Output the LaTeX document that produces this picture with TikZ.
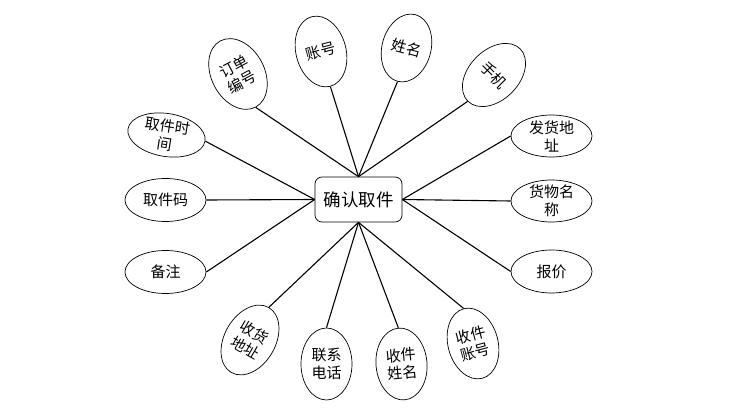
\documentclass[tikz,border=0pt]{standalone}
\usepackage{fontspec}
\setmainfont{Noto Sans CJK SC}
\usetikzlibrary{shapes.geometric}

\begin{document}
\begin{tikzpicture}[x=1pt, y=-1pt,
    attr/.style={draw, ellipse, line width=0.7pt, inner sep=-12pt, align=center,
        minimum width=50pt, minimum height=72pt, font=\fontsize{15}{18}\selectfont},
    wide/.style={minimum width=81pt, minimum height=43pt},
    link/.style={line width=1.1pt}]
    \useasboundingbox (0,0) rectangle (740,409);

    % 中心
    \node[draw, rounded corners=7pt, line width=0.7pt, minimum width=87pt, minimum height=45pt,
        inner sep=0pt, font=\fontsize{17.5}{20}\selectfont] (confirm) at (358.5,199.5) {确认取件};

    % 上方
    \node[attr, rotate=28, minimum width=53pt, minimum height=75pt] (orderNo) at (238,74) {订单\\编号};
    \node[attr, rotate=15] (account) at (321,51.5) {账号};
    \node[attr, rotate=-15, minimum width=49pt, minimum height=69pt] (name) at (406.5,48) {姓名};
    \node[attr, rotate=-45, minimum width=50pt, minimum height=74pt] (phone) at (494,75) {手机};

    % 右侧
    \node[attr, wide, minimum height=42pt] (sendAddr) at (551.5,136) {发货地\\址};
    \node[attr, wide, minimum height=42pt] (goods) at (551.5,201) {货物名\\称};
    \node[attr, wide] (price) at (551.5,271.5) {报价};

    % 下方
    \node[attr, rotate=15] (recvAcct) at (473,343.5) {收件\\账号};
    \node[attr, rotate=5, minimum width=51pt] (recvName) at (401.5,364) {收件\\姓名};
    \node[attr, minimum width=51pt] (contact) at (326.5,364) {联系\\电话};
    \node[attr, rotate=-30, minimum width=51pt, minimum height=75pt] (recvAddr) at (250,340) {收货\\地址};

    % 左侧
    \node[attr, wide] (remark) at (165.5,272) {备注};
    \node[attr, wide] (pickCode) at (165.5,200) {取件码};
    \node[attr, wide, rotate=-9, minimum width=78pt, minimum height=43pt] (pickTime) at (166.5,135) {取件时\\间};

    % 连线
    \foreach \n in {orderNo,account,name,phone}
        \draw[link] (confirm.north) -- (\n.south);
    \foreach \n in {sendAddr,goods,price}
        \draw[link] (confirm.east) -- (\n.west);
    \foreach \n in {recvAcct,recvName,contact,recvAddr}
        \draw[link] (confirm.south) -- (\n.north);
    \foreach \n in {remark,pickCode,pickTime}
        \draw[link] (confirm.west) -- (\n.east);
\end{tikzpicture}
\end{document}
